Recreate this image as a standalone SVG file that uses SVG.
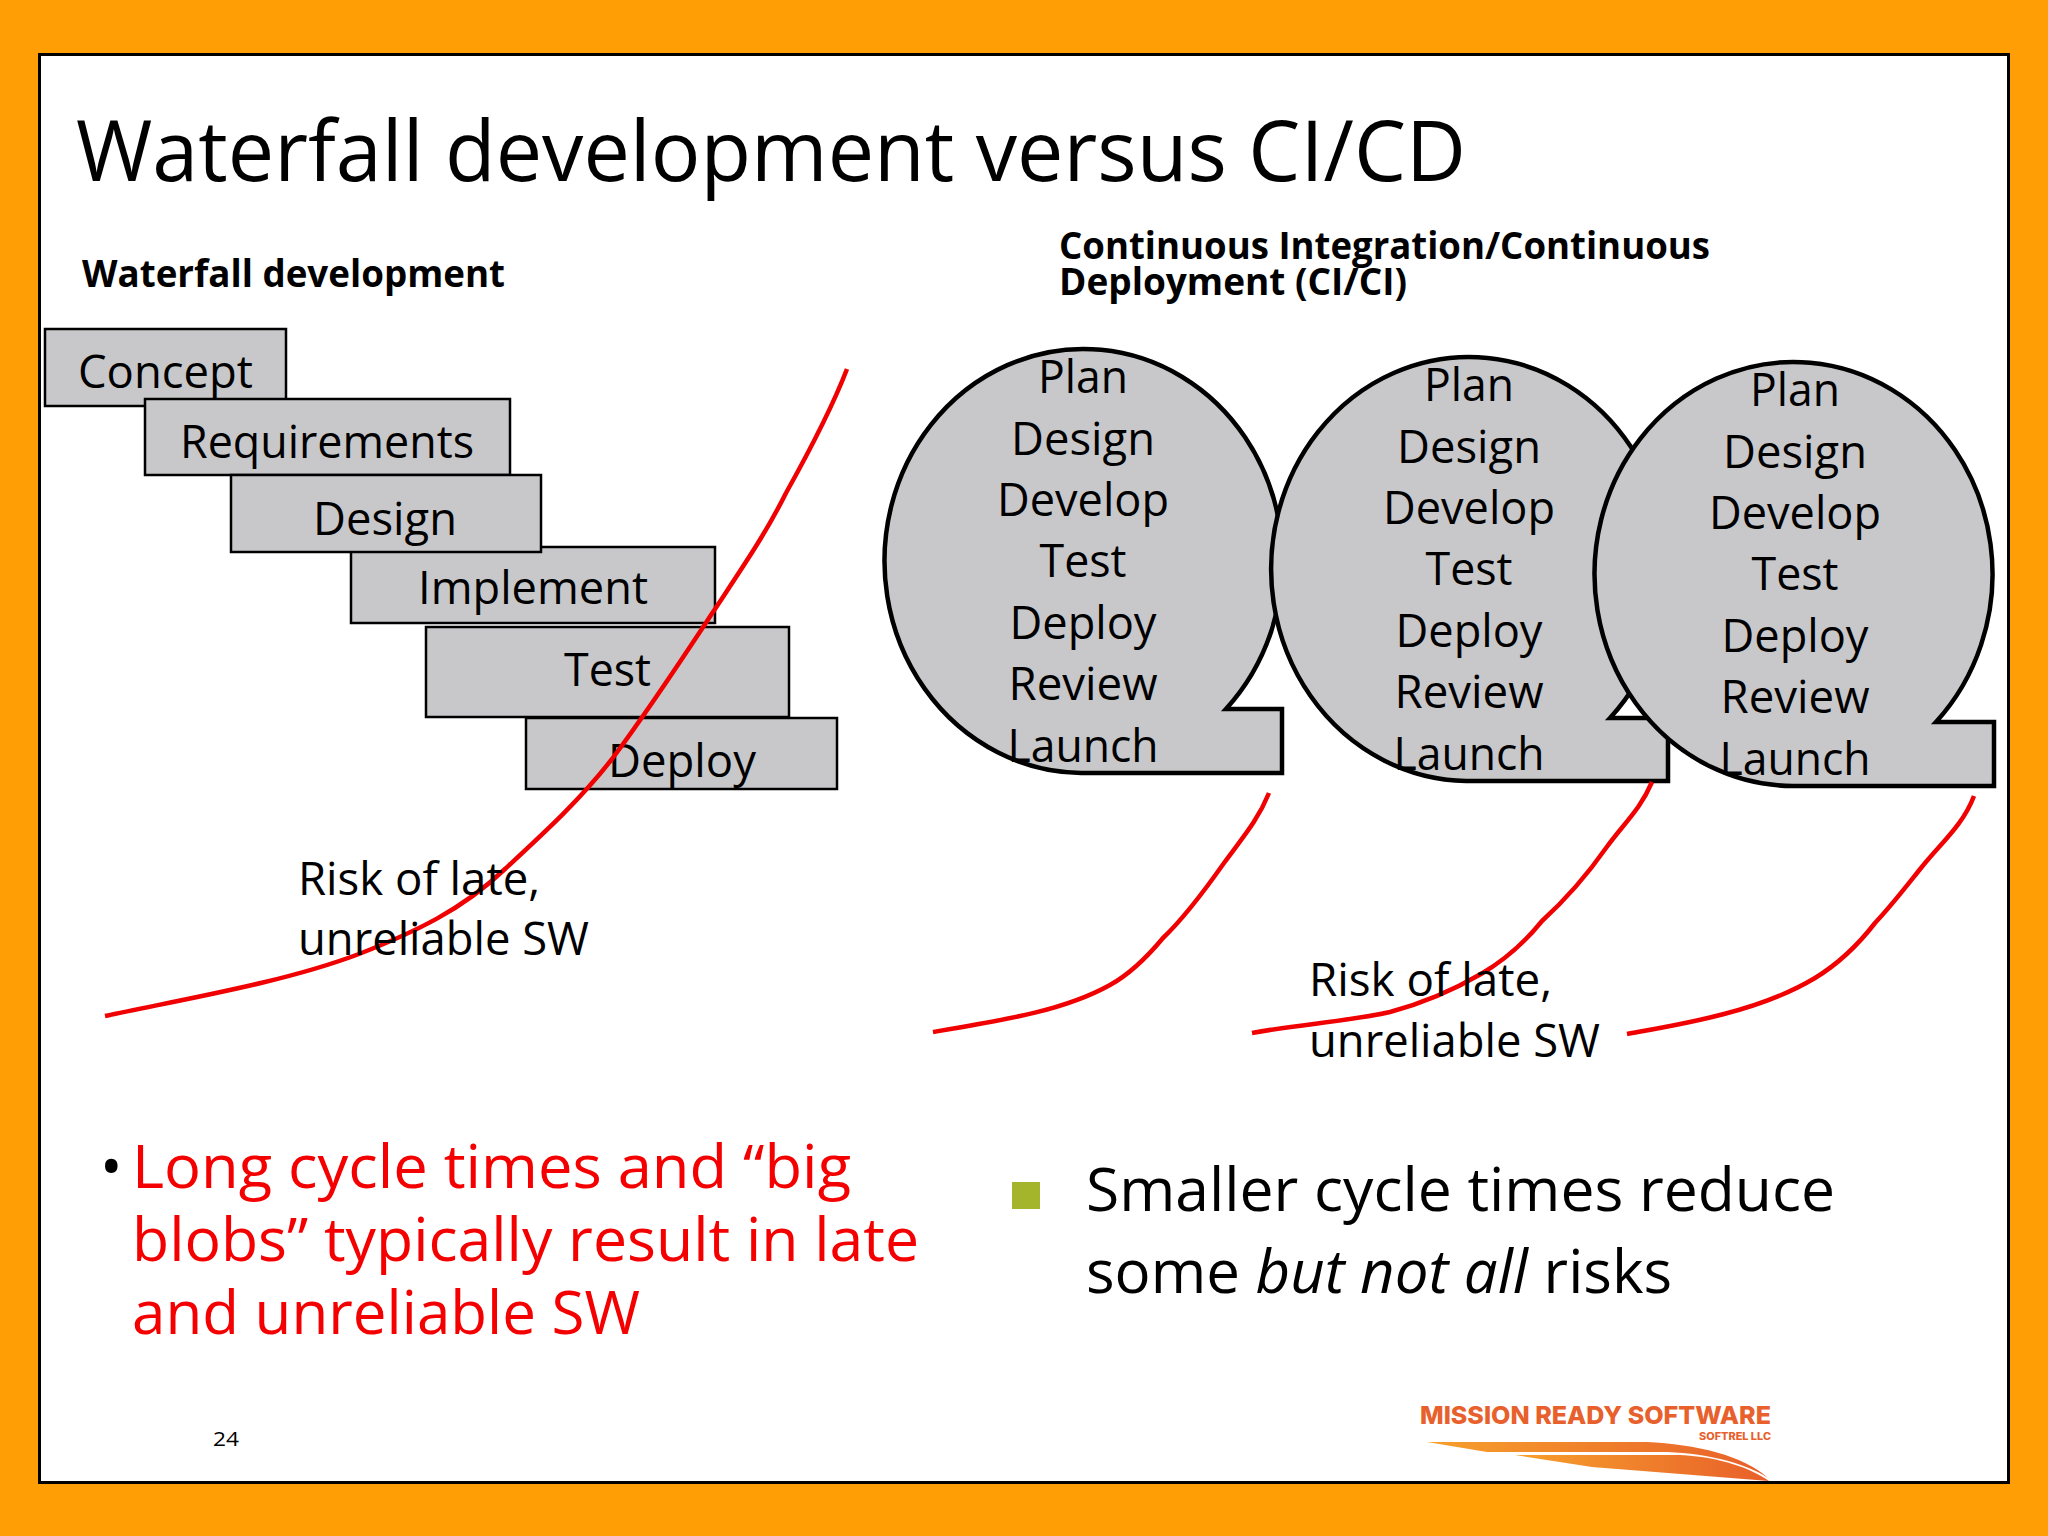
<svg xmlns="http://www.w3.org/2000/svg" width="2048" height="1536" viewBox="0 0 2048 1536">
<style>
text{font-family:"Open Sans","Noto Sans",sans-serif;fill:#000}
.box{fill:#c8c8ca;stroke:#000;stroke-width:2.500}
.bub{fill:#c8c8ca;stroke:#000;stroke-width:4.500}
.risk{fill:none;stroke:#f00000;stroke-width:4.500;stroke-linecap:butt}
.t{font-size:46px}
.h{font-size:38px;font-weight:700}
.red{font-size:60px;fill:#f50000}
.blk{font-size:60px}
</style>
<defs>
<linearGradient id="sw" x1="0" x2="1" y1="0" y2="0"><stop offset="0" stop-color="#f7a02c"/><stop offset="1" stop-color="#e85f2a"/></linearGradient>
</defs>
<rect width="2048" height="1536" fill="#ff9e05"/>
<rect x="39.500" y="54.500" width="1969" height="1428" fill="#fff" stroke="#000" stroke-width="3"/>
<text id="title" x="76" y="181" font-size="85" textLength="1390" lengthAdjust="spacingAndGlyphs">Waterfall development versus CI/CD</text>
<text class="h" x="82" y="287" textLength="423" lengthAdjust="spacingAndGlyphs">Waterfall development</text>
<text class="h" x="1059" y="259" textLength="651" lengthAdjust="spacingAndGlyphs">Continuous Integration/Continuous</text>
<text class="h" x="1059" y="295" textLength="348" lengthAdjust="spacingAndGlyphs">Deployment (CI/CI)</text>

<g id="concept"><rect class="box" x="45" y="329" width="241" height="77"/><text class="t" x="78" y="388" textLength="175" lengthAdjust="spacingAndGlyphs">Concept</text></g>
<g id="requirements"><rect class="box" x="145" y="399" width="365" height="76"/><text class="t" x="180" y="458" textLength="294" lengthAdjust="spacingAndGlyphs">Requirements</text></g>
<g id="implement"><rect class="box" x="351" y="547" width="364" height="76"/><text class="t" x="418" y="604" textLength="230" lengthAdjust="spacingAndGlyphs">Implement</text></g>
<g id="design"><rect class="box" x="231" y="475" width="310" height="77"/><text class="t" x="313" y="535" textLength="144" lengthAdjust="spacingAndGlyphs">Design</text></g>
<g id="test"><rect class="box" x="426" y="627" width="363" height="90"/><text class="t" x="564" y="686" textLength="87" lengthAdjust="spacingAndGlyphs">Test</text></g>
<g id="deploy"><rect class="box" x="526" y="718" width="311" height="71"/><text class="t" x="608" y="777" textLength="148" lengthAdjust="spacingAndGlyphs">Deploy</text></g>

<g id="bubble1">
<path class="bub" d="M1081 773A199 212 0 1 1 1226 709H1282V773Z"/>
<g text-anchor="middle"><text class="t" x="1083" y="393" textLength="90" lengthAdjust="spacingAndGlyphs">Plan</text><text class="t" x="1083" y="455" textLength="144" lengthAdjust="spacingAndGlyphs">Design</text><text class="t" x="1083" y="516" textLength="172" lengthAdjust="spacingAndGlyphs">Develop</text><text class="t" x="1083" y="577" textLength="87" lengthAdjust="spacingAndGlyphs">Test</text><text class="t" x="1083" y="639" textLength="147" lengthAdjust="spacingAndGlyphs">Deploy</text><text class="t" x="1083" y="700" textLength="149" lengthAdjust="spacingAndGlyphs">Review</text><text class="t" x="1083" y="762" textLength="151" lengthAdjust="spacingAndGlyphs">Launch</text></g>
</g>
<g id="bubble2">
<path class="bub" d="M1466 781A198 212 0 1 1 1610 718H1668V781Z"/>
<g text-anchor="middle"><text class="t" x="1469" y="401" textLength="90" lengthAdjust="spacingAndGlyphs">Plan</text><text class="t" x="1469" y="463" textLength="144" lengthAdjust="spacingAndGlyphs">Design</text><text class="t" x="1469" y="524" textLength="172" lengthAdjust="spacingAndGlyphs">Develop</text><text class="t" x="1469" y="585" textLength="87" lengthAdjust="spacingAndGlyphs">Test</text><text class="t" x="1469" y="647" textLength="147" lengthAdjust="spacingAndGlyphs">Deploy</text><text class="t" x="1469" y="708" textLength="149" lengthAdjust="spacingAndGlyphs">Review</text><text class="t" x="1469" y="770" textLength="151" lengthAdjust="spacingAndGlyphs">Launch</text></g>
</g>
<g id="bubble3">
<path class="bub" d="M1793 786A199 212 0 1 1 1936 722H1994V786Z"/>
<g text-anchor="middle"><text class="t" x="1795" y="406" textLength="90" lengthAdjust="spacingAndGlyphs">Plan</text><text class="t" x="1795" y="468" textLength="144" lengthAdjust="spacingAndGlyphs">Design</text><text class="t" x="1795" y="529" textLength="172" lengthAdjust="spacingAndGlyphs">Develop</text><text class="t" x="1795" y="590" textLength="87" lengthAdjust="spacingAndGlyphs">Test</text><text class="t" x="1795" y="652" textLength="147" lengthAdjust="spacingAndGlyphs">Deploy</text><text class="t" x="1795" y="713" textLength="149" lengthAdjust="spacingAndGlyphs">Review</text><text class="t" x="1795" y="775" textLength="151" lengthAdjust="spacingAndGlyphs">Launch</text></g>
</g>

<g id="connectors">
<path class="risk" d="M105 1016C190 998 285 982 359 954C415 932 462 910 505 869C545 832 580 800 612 759C650 708 680 662 713 612C742 568 765 535 786 493C810 450 832 408 847 369"/>
<path class="risk" d="M1269 793C1258 820 1243 837 1224 863C1205 890 1185 917 1163 938C1148 956 1130 974 1110 985C1065 1010 1010 1019 933 1032"/>
<path class="risk" d="M1652 782C1640 810 1625 822 1606 848C1585 878 1565 900 1542 921C1525 942 1505 960 1481 974C1450 992 1420 1004 1390 1012C1345 1022 1300 1024 1252 1033"/>
<path class="risk" d="M1974 796C1963 825 1942 842 1921 868C1905 888 1892 905 1875 923C1858 945 1838 964 1815 978C1785 996 1755 1006 1724 1014C1690 1023 1660 1028 1627 1034"/>
</g>

<text class="t" x="298" y="895" textLength="242" lengthAdjust="spacingAndGlyphs">Risk of late,</text>
<text class="t" x="298" y="955" textLength="291" lengthAdjust="spacingAndGlyphs">unreliable SW</text>
<text class="t" x="1309" y="996" textLength="243" lengthAdjust="spacingAndGlyphs">Risk of late,</text>
<text class="t" x="1309" y="1057" textLength="291" lengthAdjust="spacingAndGlyphs">unreliable SW</text>

<text x="100" y="1188" font-size="60">•</text>
<text class="red" x="132" y="1188" textLength="719" lengthAdjust="spacingAndGlyphs">Long cycle times and “big</text>
<text class="red" x="132" y="1261" textLength="787" lengthAdjust="spacingAndGlyphs">blobs” typically result in late</text>
<text class="red" x="132" y="1334" textLength="508" lengthAdjust="spacingAndGlyphs">and unreliable SW</text>

<rect x="1012" y="1182" width="28" height="27" fill="#a5b52b"/>
<text class="blk" x="1086" y="1211" textLength="749" lengthAdjust="spacingAndGlyphs">Smaller cycle times reduce</text>
<text class="blk" x="1086" y="1293" textLength="586" lengthAdjust="spacingAndGlyphs">some <tspan font-style="italic">but not all</tspan> risks</text>

<text x="213" y="1446" font-size="20" textLength="26" lengthAdjust="spacingAndGlyphs">24</text>

<g id="logo">
<text x="1420" y="1424" font-size="25" font-weight="800" style="fill:#e8602c;font-family:Inter,'Open Sans',sans-serif" textLength="351" lengthAdjust="spacingAndGlyphs">MISSION READY SOFTWARE</text>
<text x="1699" y="1440" font-size="10" font-weight="800" style="fill:#e8602c;font-family:Inter,'Open Sans',sans-serif" textLength="72" lengthAdjust="spacingAndGlyphs">SOFTREL LLC</text>
<path fill="url(#sw)" d="M1427 1442H1647C1695 1444 1745 1456 1768 1478C1745 1462 1700 1452 1660 1452H1487Z"/>
<path fill="url(#sw)" d="M1515 1455H1680C1720 1457 1750 1468 1769 1481L1592 1467Z"/>
</g>
</svg>
